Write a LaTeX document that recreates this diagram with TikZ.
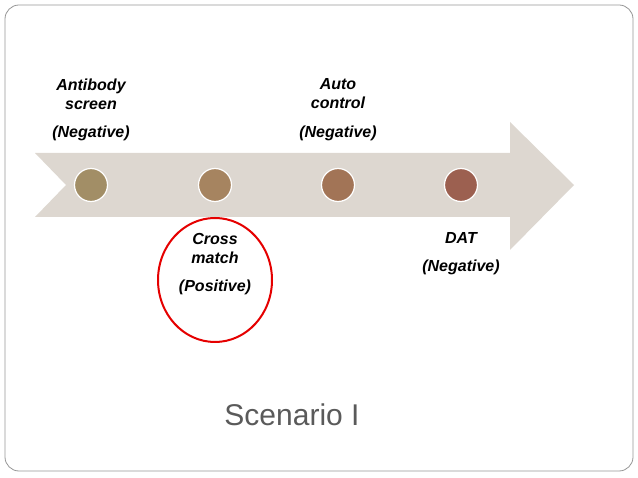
\documentclass[tikz,border=0pt]{standalone}
\usepackage{fontspec}
\setmainfont{Liberation Sans}
\definecolor{band}{RGB}{221,215,208}
\definecolor{frame}{RGB}{150,150,150}
\definecolor{dotA}{RGB}{162,142,102}
\definecolor{dotB}{RGB}{166,132,96}
\definecolor{dotC}{RGB}{162,116,86}
\definecolor{dotD}{RGB}{156,96,80}
\definecolor{titlegray}{RGB}{90,90,90}
\begin{document}
\begin{tikzpicture}[x=1pt,y=-1pt,
  dot/.style={circle,draw=white,line width=1.2pt,minimum size=33pt,inner sep=0pt},
  lbl/.style={font=\fontsize{16}{19}\selectfont\bfseries\itshape,align=center,inner sep=0pt}]
\useasboundingbox (0,0) rectangle (638,478);
% slide frame
\draw[frame,line width=0.8pt,rounded corners=14pt] (5,5) rectangle (633,471);
% arrow
\fill[band] (35,153) -- (510,153) -- (510,122) -- (574,185) -- (510,250) -- (510,217)
  -- (35,217) -- (66,185) -- cycle;
% dots
\node[dot,fill=dotA] (d1) at (91,185) {};
\node[dot,fill=dotB] (d2) at (215,185) {};
\node[dot,fill=dotC] (d3) at (338,185) {};
\node[dot,fill=dotD] (d4) at (461,185) {};
% labels
\node[lbl] (t1) at (91,94) {Antibody\\screen};
\node[lbl] (n1) at (91,133) {(Negative)};
\node[lbl] (t3) at (338,94) {Auto\\control};
\node[lbl] (n3) at (338,133) {(Negative)};
\node[lbl] (t2) at (215,248) {Cross\\match};
\node[lbl] (n2) at (215,287) {(Positive)};
\node[lbl] (t4) at (461,238) {DAT};
\node[lbl] (n4) at (461,267) {(Negative)};
% highlight
\draw[red!90!black,line width=2pt] (215,280) ellipse [x radius=57,y radius=62];
% title
\node[text=titlegray,font=\fontsize{30}{36}\selectfont] (title) at (292,415) {Scenario I};
\end{tikzpicture}
\end{document}
